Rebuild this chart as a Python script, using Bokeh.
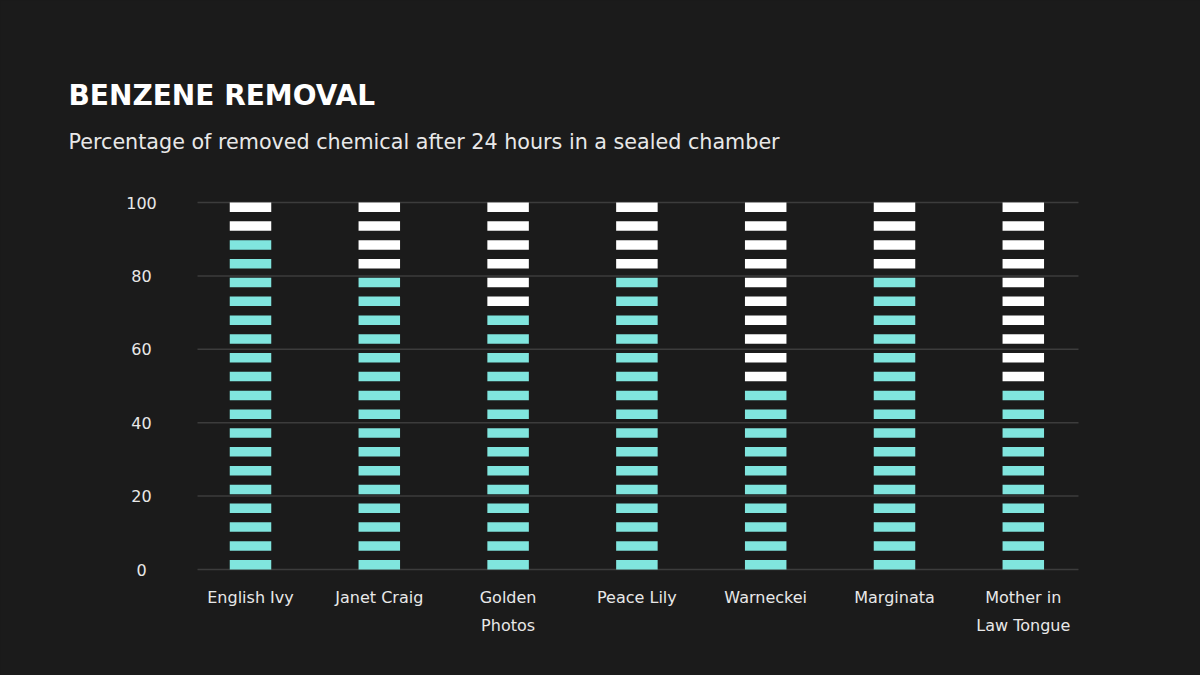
from bokeh.plotting import figure
from bokeh.models import Range1d, ColumnDataSource
from bokeh.core.properties import value
from bokeh.embed import file_html
from bokeh.resources import INLINE

# ---- data ----
plants = ["English Ivy", "Janet Craig", "Golden\nPhotos", "Peace Lily",
          "Warneckei", "Marginata", "Mother in\nLaw Tongue"]
removal_pct = [90, 80, 70, 80, 50, 80, 50]
y_ticks = [0, 20, 40, 60, 80, 100]
y_tick_labels = ["0", "20", "40", "60", "80", "100"]
dash_step = 5          # each dash represents 5 %
scale_max = 100

title_text = "BENZENE REMOVAL"
subtitle_text = "Percentage of removed chemical after 24 hours in a sealed chamber"

# ---- style ----
BG = "#1b1b1b"
TEAL = "#80e5de"
WHITE = "#ffffff"
GRID = "#3c3c3c"
TXT = "#e8e8e8"

W, H = 1200, 675
# layout: pixel geometry of the plotting area (category spacing / value scale)
X0_PX, X_STEP_PX = 250.0, 128.8        # centre of first category, category spacing
Y0_PX, Y100_PX = 569.0, 202.0          # pixel rows of value 0 and value 100
PX_PER_UNIT = (Y0_PX - Y100_PX) / scale_max


def dx(px):
    return (px - X0_PX) / X_STEP_PX


def dy(py):
    return (Y0_PX - py) / PX_PER_UNIT


# build dash table from the data
dash_h = 9.5 / PX_PER_UNIT
n_dash = scale_max // dash_step
pitch = (scale_max - dash_h) / (n_dash - 1)
xs, ys, colors = [], [], []
for i, v in enumerate(removal_pct):
    for k in range(n_dash):
        xs.append(i)
        ys.append(dash_h / 2 + k * pitch)
        colors.append(TEAL if (k + 1) * dash_step <= v else WHITE)
dash_src = ColumnDataSource(dict(x=xs, y=ys, color=colors))

p = figure(width=W, height=H, output_backend="svg", toolbar_location=None,
           title=None, x_axis_location=None, y_axis_location=None,
           x_range=Range1d(dx(0), dx(W)), y_range=Range1d(dy(H), dy(0)),
           min_border=0)
p.background_fill_color = BG
p.border_fill_color = BG
p.outline_line_color = None
p.styles = {"background-color": BG}
p.xgrid.grid_line_color = None
p.ygrid.grid_line_color = None

# grid lines at the tick values
n_tick = len(y_ticks)
p.segment(x0=[dx(197)] * n_tick, x1=[dx(1078)] * n_tick, y0=y_ticks, y1=y_ticks,
          line_color=GRID, line_width=1.5)

# dashes
p.rect(x="x", y="y", width=41.5 / X_STEP_PX, height=dash_h, fill_color="color",
       line_color=None, source=dash_src)

# y tick labels
p.text(x=[dx(141)] * n_tick, y=y_ticks, text=y_tick_labels, text_align="center",
       text_baseline="middle", text_color=TXT, text_font=value("DejaVu Sans"),
       text_font_size="16px")

# category labels
lab_src = ColumnDataSource(dict(x=list(range(len(plants))),
                                y=[dy(587)] * len(plants), text=plants))
p.text(x="x", y="y", text="text", source=lab_src, text_align="center",
       text_baseline="top", text_color=TXT, text_font=value("DejaVu Sans"),
       text_font_size="16px", text_line_height=1.5)

# title and subtitle
p.text(x=[dx(68)], y=[dy(95)], text=[title_text], text_color=WHITE,
       text_font=value("DejaVu Sans"), text_font_style="bold",
       text_font_size="28px", text_baseline="alphabetic")
p.text(x=[dx(68)], y=[dy(141)], text=[subtitle_text], text_color=TXT,
       text_font=value("DejaVu Sans"), text_font_size="20.7px",
       text_baseline="alphabetic")

open("out.html", "w").write(file_html(p, INLINE))
